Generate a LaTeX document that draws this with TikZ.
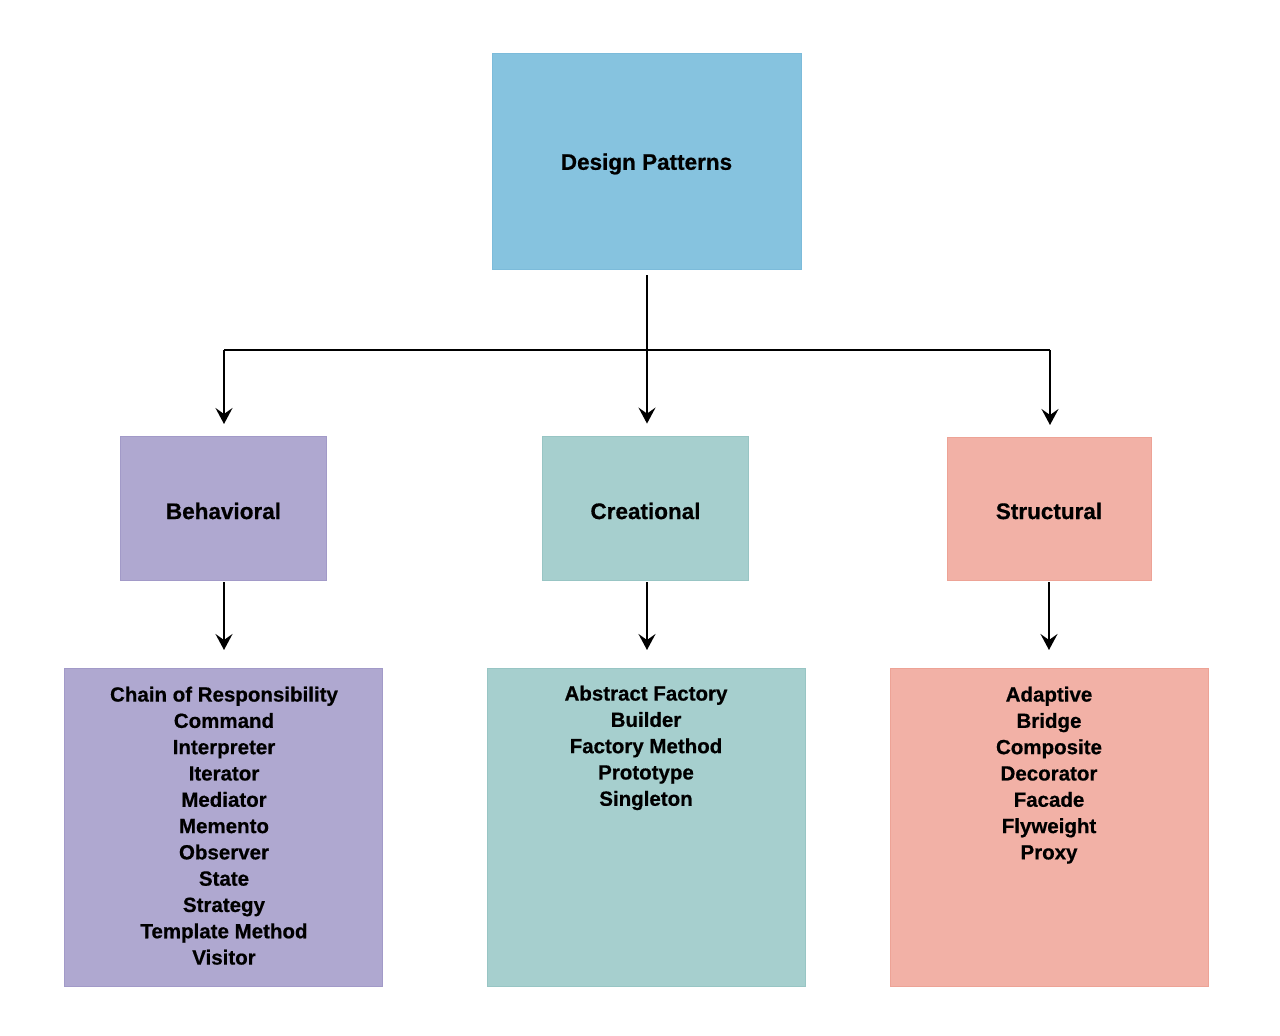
\documentclass[tikz,border=0pt]{standalone}
\usepackage{fontspec}
\setmainfont{Liberation Sans}[BoldFeatures={FakeBold=0.6}]
\usetikzlibrary{arrows.meta}
\definecolor{cTop}{HTML}{86C3DF}
\definecolor{cTopB}{HTML}{7CBBDA}
\definecolor{cBeh}{HTML}{AFA8D0}
\definecolor{cBehB}{HTML}{A29AC8}
\definecolor{cCre}{HTML}{A6CFCE}
\definecolor{cCreB}{HTML}{98C5C4}
\definecolor{cStr}{HTML}{F2B1A6}
\definecolor{cStrB}{HTML}{EDA396}
\begin{document}
\begin{tikzpicture}[x=1pt,y=-1pt,
  box/.style={rectangle, inner sep=0pt, line width=0.8pt},
  lbl/.style={inner sep=0pt, font=\fontsize{22.5}{26}\selectfont\bfseries},
  listtext/.style={inner sep=0pt, align=center, anchor=north, font=\fontsize{20.5}{26.3}\selectfont\bfseries},
  conn/.style={line width=2pt, draw=black},
  arr/.style={conn, -{Stealth[length=16pt,width=17pt,inset=6pt]}}
]
\useasboundingbox (0,0) rectangle (1280,1036);
\fill[white] (0,0) rectangle (1280,1036);

% boxes
\node[box, fill=cTop, draw=cTopB, minimum width=309pt, minimum height=216pt] (top) at (646.5,161) {};
\node[box, fill=cBeh, draw=cBehB, minimum width=206pt, minimum height=144pt] (beh) at (223,508) {};
\node[box, fill=cCre, draw=cCreB, minimum width=206pt, minimum height=144pt] (cre) at (645,508) {};
\node[box, fill=cStr, draw=cStrB, minimum width=204pt, minimum height=143pt] (str) at (1049,508.5) {};
\node[lbl] (topL) at (646.5,164) {Design Patterns};
\node[lbl] (behL) at (223.5,511) {Behavioral};
\node[lbl] (creL) at (645.5,511) {Creational};
\node[lbl] (strL) at (1049,511) {Structural};

\node[box, fill=cBeh, draw=cBehB, minimum width=318pt, minimum height=318pt] (behList) at (223,827) {};
\node[box, fill=cCre, draw=cCreB, minimum width=318pt, minimum height=318pt] (creList) at (646,827) {};
\node[box, fill=cStr, draw=cStrB, minimum width=318pt, minimum height=318pt] (strList) at (1049,827) {};

\node[listtext] (behT) at (224,686.5) {Chain of Responsibility\\Command\\Interpreter\\Iterator\\Mediator\\Memento\\Observer\\State\\Strategy\\Template Method\\Visitor};
\node[listtext] (creT) at (646,685.5) {Abstract Factory\\Builder\\Factory Method\\Prototype\\Singleton};
\node[listtext] (strT) at (1049,686.5) {Adaptive\\Bridge\\Composite\\Decorator\\Facade\\Flyweight\\Proxy};

% connectors
\coordinate (bus) at (647,350);
\draw[arr, shorten <=6pt, shorten >=12pt] (top.south -| bus) -- (bus |- cre.north);
\draw[conn] (bus -| 224,0) -- (bus -| 1050,0);
\draw[arr, shorten >=12pt] (bus -| 224,0) -- (224,436);
\draw[arr, shorten >=12pt] (bus -| 1050,0) -- (1050,437);
\draw[arr, shorten <=2pt, shorten >=18pt] (beh.south -| 224,0) -- (224,668);
\draw[arr, shorten <=2pt, shorten >=18pt] (cre.south -| 647,0) -- (647,668);
\draw[arr, shorten <=2pt, shorten >=18pt] (str.south -| 1049,0) -- (1049,668);
\end{tikzpicture}
\end{document}
